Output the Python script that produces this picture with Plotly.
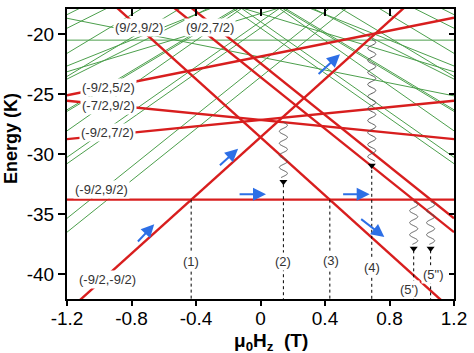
import numpy as np
import plotly.graph_objects as go

# ---------------- data ----------------
# Field axis limits (T) at which each level's energy (K) is given
H_LEFT, H_RIGHT = -1.2, 1.2

# Highlighted (red) levels: energy at H=-1.2 T and at H=+1.2 T
red_names = ["(-9/2,9/2)", "(-9/2,-9/2)", "(9/2,9/2)", "(9/2,7/2) a", "(9/2,7/2) b",
             "(-9/2,7/2)", "(-7/2,9/2)", "(-9/2,5/2)"]
red_E_left = [-33.78, -43.11, -14.07, -10.68, -9.53, -28.75, -25.55, -25.10]
red_E_right = [-33.78, -14.07, -43.11, -36.49, -35.34, -25.55, -28.75, -18.65]

# Other dimer levels (green): energy at H=-1.2 T and at H=+1.2 T
green_E_left = [-36.49, -35.34,
                -30.79, -30.26, -28.06,
                -8.21, -7.68, -5.48,
                -26.44, -26.31, -23.53, -21.61,
                -7.08, -6.95, -4.17, -2.25,
                -23.75, -19.52, -18.39,
                -7.61, -3.38, -2.25,
                -22.66, -9.76,
                -23.14, -13.46,
                -18.69, -20.51]
green_E_right = [-10.68, -9.53,
                 -8.21, -7.68, -5.48,
                 -30.79, -30.26, -28.06,
                 -7.08, -6.95, -4.17, -2.25,
                 -26.44, -26.31, -23.53, -21.61,
                 -7.61, -3.38, -2.25,
                 -23.75, -19.52, -18.39,
                 -9.76, -22.66,
                 -13.46, -23.14,
                 -25.15, -20.51]

# State labels: text, field, energy
state_labels = ["(9/2,9/2)", "(9/2,7/2)", "(-9/2,5/2)", "(-7/2,9/2)", "(-9/2,7/2)",
                "(-9/2,9/2)", "(-9/2,-9/2)"]
state_label_H = [-0.753, -0.316, -0.943, -0.943, -0.950, -0.986, -0.946]
state_label_E = [-19.45, -19.45, -24.48, -25.97, -28.19, -32.94, -40.39]

# Resonant transitions: label, field, top of dotted line, label position
trans_labels = ["(1)", "(2)", "(3)", "(4)", "(5')", "(5\")"]
trans_H = [-0.43, 0.142, 0.43, 0.69, 0.95, 1.055]
trans_dot_top = [-33.78, -32.5, -33.78, -31.3, -38.0, -38.0]
trans_label_E = [-38.9, -38.9, -38.85, -39.45, -41.3, -40.05]
label_H = [-0.43, 0.142, 0.435, 0.69, 0.92, 1.07]
# wavy relaxation lines: field, start energy, end energy
wavy_H = [0.142, 0.69, 0.95, 1.055]
wavy_E_start = [-27.35, -20.45, -33.95, -33.95]
wavy_E_end = [-31.95, -30.6, -37.5, -37.5]

# Blue arrows: tail (H, E) -> head (H, E)
arrow_H0 = [-0.769, -0.261, 0.351, -0.139, 0.503, 0.615]
arrow_E0 = [-37.39, -31.04, -23.44, -33.33, -33.33, -35.31]
arrow_H1 = [-0.659, -0.139, 0.493, 0.034, 0.677, 0.768]
arrow_E1 = [-35.82, -29.54, -21.68, -33.33, -33.33, -36.90]

x_ticks = [-1.2, -0.8, -0.4, 0, 0.4, 0.8, 1.2]
x_tick_text = ["-1.2", "-0.8", "-0.4", "0", "0.4", "0.8", "1.2"]
y_ticks = [-40, -35, -30, -25, -20]
y_tick_text = ["-40", "-35", "-30", "-25", "-20"]

# ---------------- figure ----------------
RED = "#d81e1e"
GREEN = "#4c9f4c"
BLUE = "#2d6fe6"
FONT = "Liberation Sans, Arial, sans-serif"

fig = go.Figure()

for el, er in zip(green_E_left, green_E_right):
    fig.add_trace(go.Scatter(x=[H_LEFT, H_RIGHT], y=[el, er], mode="lines",
                             line=dict(color=GREEN, width=1), showlegend=False,
                             hoverinfo="skip"))
for name, el, er in zip(red_names, red_E_left, red_E_right):
    fig.add_trace(go.Scatter(x=[H_LEFT, H_RIGHT], y=[el, er], mode="lines", name=name,
                             line=dict(color=RED, width=2.4), showlegend=False))

# dotted vertical lines
for h, top in zip(trans_H, trans_dot_top):
    fig.add_shape(type="line", xref="x", yref="y", x0=h, x1=h, y0=top, y1=-42.05,
                  line=dict(color="black", width=1, dash="dot"))

# wavy relaxation lines (decoration)
amp = 0.025
for h, e0, e1 in zip(wavy_H, wavy_E_start, wavy_E_end):
    n = 200
    t = np.linspace(0, 1, n)
    ee = e0 + (e1 - e0) * t
    ncyc = abs(e1 - e0) / 1.0
    hh = h + amp * np.sin(2 * np.pi * ncyc * t)
    path = "M " + " L ".join(f"{a:.4f},{b:.4f}" for a, b in zip(hh, ee))
    fig.add_shape(type="path", xref="x", yref="y", path=path,
                  line=dict(color="#555555", width=1))
    fig.add_trace(go.Scatter(x=[h], y=[e1 - 0.35], mode="markers",
                             marker=dict(symbol="triangle-down", size=7, color="black"),
                             showlegend=False, hoverinfo="skip"))

# blue arrows
for x0, y0, x1, y1 in zip(arrow_H0, arrow_E0, arrow_H1, arrow_E1):
    fig.add_annotation(x=x1, y=y1, ax=x0, ay=y0, xref="x", yref="y", axref="x", ayref="y",
                       text="", showarrow=True, arrowhead=2, arrowsize=1.3, arrowwidth=2,
                       arrowcolor=BLUE)

# state labels
for txt, h, e in zip(state_labels, state_label_H, state_label_E):
    fig.add_annotation(x=h, y=e, xref="x", yref="y", text=txt, showarrow=False,
                       bgcolor="white", borderpad=1, xanchor="center", yanchor="middle",
                       font=dict(family=FONT, size=13, color="#333333"))

# transition labels
for txt, h, e in zip(trans_labels, label_H, trans_label_E):
    fig.add_annotation(x=h, y=e, xref="x", yref="y", text=txt, showarrow=False,
                       bgcolor="white", borderpad=1, xanchor="center", yanchor="middle",
                       font=dict(family=FONT, size=13, color="#333333"))

# dummy traces for the extra tick-only axes
fig.add_trace(go.Scatter(x=[None], y=[None], xaxis="x2", yaxis="y2", showlegend=False))
fig.add_trace(go.Scatter(x=[None], y=[None], xaxis="x3", yaxis="y", showlegend=False))

fig.update_layout(
    width=474, height=353,
    margin=dict(l=67, r=15, t=7, b=54),
    paper_bgcolor="white", plot_bgcolor="white",
    showlegend=False,
    xaxis=dict(range=[-1.2, 1.2], tickvals=x_ticks, ticktext=x_tick_text, ticks="outside",
               ticklen=1, tickwidth=1, tickcolor="black", showline=True, linewidth=2,
               linecolor="black", mirror=True, showgrid=False, zeroline=False,
               tickfont=dict(family=FONT, size=19, color="black")),
    xaxis3=dict(range=[-1.2, 1.2], overlaying="x", side="bottom", anchor="y",
                tickvals=x_ticks, ticks="outside", ticklen=6, tickwidth=1.5,
                tickcolor="black", showticklabels=False, showgrid=False,
                zeroline=False, showline=False),
    yaxis=dict(range=[-42.05, -17.92], tickvals=y_ticks, ticktext=y_tick_text, ticks="outside",
               ticklen=7, tickwidth=1.5, tickcolor="black", showline=True, linewidth=2,
               linecolor="black", mirror=True, showgrid=False, zeroline=False,
               tickfont=dict(family=FONT, size=19, color="black")),
    xaxis2=dict(range=[-1.2, 1.2], overlaying="x", side="top", tickvals=x_ticks,
                ticks="inside", ticklen=7, tickwidth=1.5, tickcolor="black",
                showticklabels=False, showgrid=False, zeroline=False, showline=False),
    yaxis2=dict(range=[-42.05, -17.92], overlaying="y", side="right", tickvals=y_ticks,
                ticks="inside", ticklen=5, tickwidth=1.5, tickcolor="black",
                showticklabels=False, showgrid=False, zeroline=False, showline=False),
)

fig.add_annotation(x=0.528, y=-0.148, xref="paper", yref="paper", showarrow=False,
                   xanchor="center", yanchor="middle",
                   text="<b>\u03bc<sub>0</sub>H<sub>z</sub>  (T)</b>",
                   font=dict(family=FONT, size=19, color="black"))
fig.add_annotation(x=-0.145, y=0.555, xref="paper", yref="paper", showarrow=False,
                   xanchor="center", yanchor="middle",
                   text="<b>Energy (K)</b>", textangle=-90,
                   font=dict(family=FONT, size=18, color="black"))

fig.write_html("out.html")
